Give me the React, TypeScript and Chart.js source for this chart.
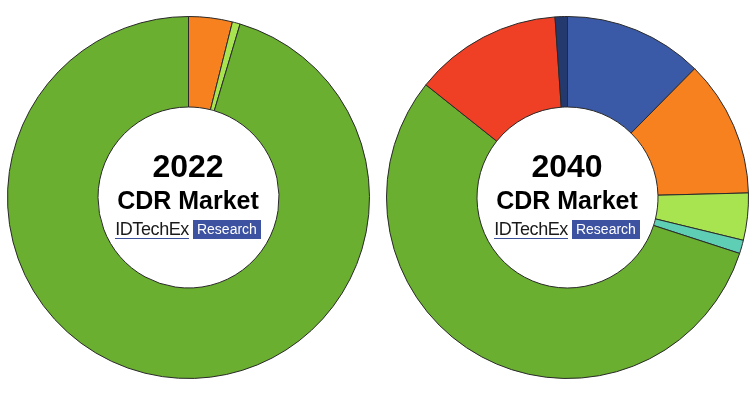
import React, { useEffect, useRef } from "react";
import { Chart, registerables } from "chart.js";

Chart.register(...registerables);

const segments2022 = ["Orange", "Light green", "Green"];
const values2022 = [3.9, 0.7, 95.4];
const colors2022 = ["#f7801f", "#a8e350", "#6aaf2f"];

const segments2040 = ["Blue", "Orange", "Light green", "Teal", "Green", "Red", "Navy"];
const values2040 = [12.4, 12.2, 4.2, 1.2, 55.7, 13.2, 1.1];
const colors2040 = ["#3a5aa8", "#f7801f", "#a8e350", "#5ecfb4", "#6aaf2f", "#ef4026", "#24396e"];

const years = ["2022", "2040"];

const SIZE = 363;

function Donut({ labels, values, colors, left, top, year }: any) {
  const ref = useRef<HTMLCanvasElement | null>(null);
  useEffect(() => {
    if (!ref.current) return;
    const chart = new Chart(ref.current, {
      type: "doughnut",
      data: {
        labels,
        datasets: [
          {
            data: values,
            backgroundColor: colors,
            borderColor: "#2a2a2a",
            borderWidth: 1,
            borderAlign: "center",
          },
        ],
      },
      options: {
        responsive: false,
        animation: false,
        cutout: "50%",
        layout: { padding: 0 },
        plugins: { legend: { display: false }, tooltip: { enabled: false } },
      },
    });
    return () => chart.destroy();
  }, []);
  const cx = left + SIZE / 2;
  const cy = top + SIZE / 2;
  const font = "Liberation Sans, Arial, sans-serif";
  return (
    <>
      <canvas
        ref={ref}
        width={SIZE}
        height={SIZE}
        style={{ position: "absolute", left, top, width: SIZE, height: SIZE }}
      />
      <div
        style={{
          position: "absolute",
          left: cx - 90,
          top: cy - 47,
          width: 180,
          height: 32,
          lineHeight: "32px",
          textAlign: "center",
          fontFamily: font,
          fontSize: 32,
          fontWeight: "bold",
          color: "#000",
        }}
      >
        {year}
      </div>
      <div
        style={{
          position: "absolute",
          left: cx - 90,
          top: cy - 9,
          width: 180,
          height: 25,
          lineHeight: "25px",
          textAlign: "center",
          fontFamily: font,
          fontSize: 25,
          fontWeight: "bold",
          color: "#000",
        }}
      >
        CDR Market
      </div>
      <div
        style={{
          position: "absolute",
          left: cx - 90,
          top: cy + 23,
          width: 180,
          height: 19,
          display: "flex",
          justifyContent: "center",
          alignItems: "stretch",
          fontFamily: font,
        }}
      >
        <span
          style={{
            fontSize: 18,
            color: "#1a1a1a",
            borderBottom: "1.5px solid #3a4f9a",
            lineHeight: "18px",
            letterSpacing: -0.4,
            height: 18,
          }}
        >
          IDTechEx
        </span>
        <span
          style={{
            fontSize: 14,
            color: "#fff",
            background: "#3d52a0",
            padding: "0 4px",
            marginLeft: 4,
            lineHeight: "19px",
            height: 19,
          }}
        >
          Research
        </span>
      </div>
    </>
  );
}

export default function App() {
  return (
    <div
      style={{
        position: "absolute",
        left: 0,
        top: 0,
        width: 756,
        height: 396,
        background: "#fff",
        overflow: "hidden",
      }}
    >
      <Donut labels={segments2022} values={values2022} colors={colors2022} left={6.5} top={15.5} year={years[0]} />
      <Donut labels={segments2040} values={values2040} colors={colors2040} left={385.5} top={15.5} year={years[1]} />
    </div>
  );
}
